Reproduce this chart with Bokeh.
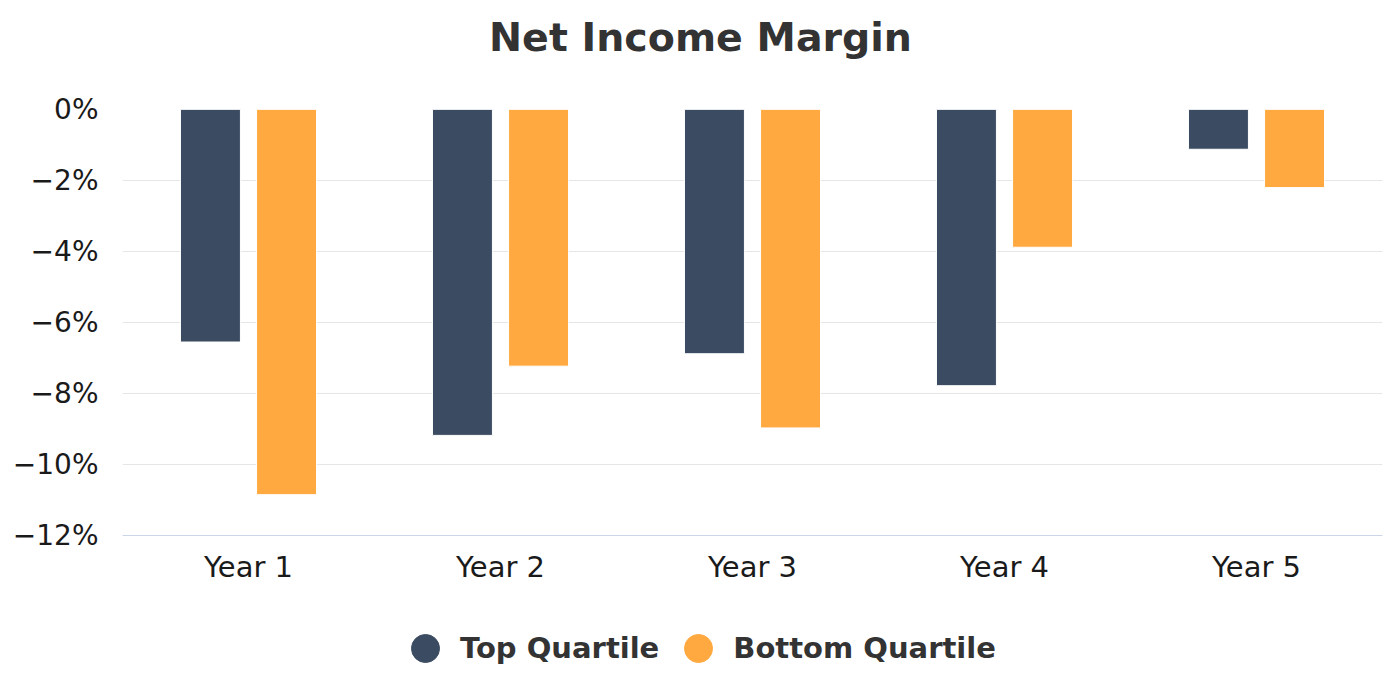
import math
from bokeh.plotting import figure
from bokeh.layouts import column
from bokeh.models import (ColumnDataSource, FactorRange, Range1d, FixedTicker,
                          Legend, LegendItem, Label)
from bokeh.transform import dodge
from bokeh.embed import file_html
from bokeh.resources import INLINE

# ---- data ----
years = ["Year 1", "Year 2", "Year 3", "Year 4", "Year 5"]
top_quartile = [-6.55, -9.18, -6.88, -7.78, -1.12]
bottom_quartile = [-10.85, -7.23, -8.97, -3.88, -2.20]
series_names = ["Top Quartile", "Bottom Quartile"]
y_ticks = [0, -2, -4, -6, -8, -10, -12]
y_tick_labels = ["0%", "\u22122%", "\u22124%", "\u22126%", "\u22128%", "\u221210%", "\u221212%"]
title_text = "Net Income Margin"

colors = ["#3b4b61", "#ffa940"]
FONT = "DejaVu Sans"

src = ColumnDataSource(dict(year=years, top=top_quartile, bottom=bottom_quartile))

p = figure(width=1400, height=610, x_range=FactorRange(factors=years),
           y_range=Range1d(-12, 0), output_backend="svg", toolbar_location=None,
           min_border_left=122, min_border_right=18, min_border_top=109,
           min_border_bottom=75)
p.outline_line_color = None
p.background_fill_color = "white"
p.border_fill_color = "white"

p.vbar(x=dodge("year", -0.151, range=p.x_range), top=0, bottom="top", width=0.238,
       source=src, fill_color=colors[0], line_color="white", line_width=1)
p.vbar(x=dodge("year", 0.151, range=p.x_range), top=0, bottom="bottom", width=0.238,
       source=src, fill_color=colors[1], line_color="white", line_width=1)

# axes
p.yaxis.ticker = FixedTicker(ticks=y_ticks)
p.yaxis.major_label_overrides = {t: l for t, l in zip(y_ticks, y_tick_labels)}
p.yaxis.axis_line_color = None
p.yaxis.major_tick_line_color = None
p.yaxis.minor_tick_line_color = None
p.yaxis.major_tick_out = 0
p.yaxis.major_label_standoff = 24
p.yaxis.major_label_text_font = FONT
p.yaxis.major_label_text_font_size = "28px"
p.yaxis.major_label_text_color = "#1a1a1a"

p.xaxis.axis_line_color = "#ccd6eb"
p.xaxis.axis_line_width = 1
p.xaxis.major_tick_line_color = None
p.xaxis.minor_tick_line_color = None
p.xaxis.major_tick_out = 0
p.xaxis.major_label_standoff = 14
p.xaxis.major_label_text_font = FONT
p.xaxis.major_label_text_font_size = "29px"
p.xaxis.major_label_text_color = "#1a1a1a"

p.xgrid.grid_line_color = None
p.ygrid.grid_line_color = "#e6e6e6"
p.ygrid.grid_line_width = 1

# title as a label in the top panel
title = Label(x=578, y=73, x_units="screen", y_units="screen", text=title_text,
              text_font=FONT, text_font_size="39.5px", text_font_style="bold",
              text_color="#333333", text_align="center", text_baseline="middle")
p.add_layout(title, "above")

# ---- legend strip ----
lf = figure(width=1400, height=90, x_range=Range1d(0, 1), y_range=Range1d(0, 1),
            output_backend="svg", toolbar_location=None, min_border=0,
            min_border_left=0, min_border_right=0, min_border_top=0, min_border_bottom=0)
lf.axis.visible = False
lf.grid.visible = False
lf.outline_line_color = None
lf.background_fill_color = "white"
lf.border_fill_color = "white"

m1 = lf.scatter(x=[0.5], y=[math.nan], marker="circle", fill_color=colors[0], line_color=colors[0])
m2 = lf.scatter(x=[0.5], y=[math.nan], marker="circle", fill_color=colors[1], line_color=colors[1])

legend = Legend(items=[LegendItem(label=series_names[0], renderers=[m1]),
                       LegendItem(label=series_names[1], renderers=[m2])],
                orientation="horizontal", location=(268, 17),
                glyph_width=70, glyph_height=70, label_standoff=0, spacing=4,
                padding=0, margin=0, border_line_color=None,
                background_fill_alpha=0,
                label_text_font=FONT, label_text_font_size="29px",
                label_text_font_style="bold", label_text_color="#333333")
lf.add_layout(legend, "center")

layout = column(p, lf, spacing=0)
open("out.html", "w").write(file_html(layout, INLINE))
